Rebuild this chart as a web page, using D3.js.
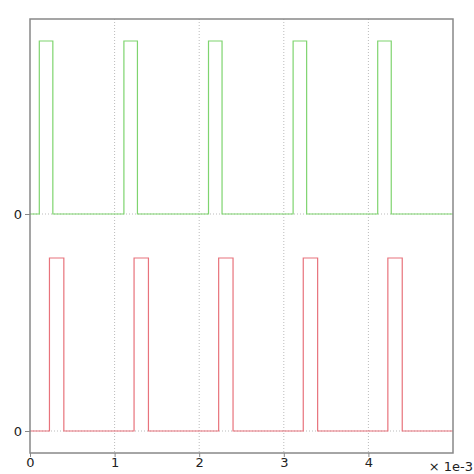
<!DOCTYPE html>
<html>
<head>
<meta charset="utf-8">
<script src="https://cdn.jsdelivr.net/npm/d3@7"></script>
<style>
  body { margin: 0; background: #fff; }
  text { font-family: "DejaVu Sans", sans-serif; font-size: 13px; fill: #222; }
</style>
</head>
<body>
<div id="chart"></div>
<script>
// pulse rise/fall times (seconds)
const greenRise = [0.11e-3, 1.11e-3, 2.11e-3, 3.11e-3, 4.11e-3];
const greenFall = [0.27e-3, 1.27e-3, 2.27e-3, 3.27e-3, 4.27e-3];
const redRise = [0.23e-3, 1.23e-3, 2.23e-3, 3.23e-3, 4.23e-3];
const redFall = [0.40e-3, 1.40e-3, 2.40e-3, 3.40e-3, 4.40e-3];
const xTicks = [0, 1e-3, 2e-3, 3e-3, 4e-3];
const xEnd = 5e-3;

const width = 474, height = 474;
const margin = { top: 19, right: 21, bottom: 21, left: 30 };

const svg = d3.select("#chart").append("svg")
  .attr("width", width).attr("height", height);

const x = d3.scaleLinear().domain([0, xEnd]).range([margin.left, width - margin.right]);
// two stacked digital traces, each with its own scale
const yGreen = d3.scaleLinear().domain([0, 1]).range([214, 41]);
const yRed = d3.scaleLinear().domain([0, 1]).range([431, 258]);

function steps(rise, fall) {
  const pts = [[0, 0]];
  rise.forEach((r, i) => {
    pts.push([r, 0], [r, 1], [fall[i], 1], [fall[i], 0]);
  });
  pts.push([xEnd, 0]);
  return pts;
}

// vertical grid
svg.append("g")
  .selectAll("line").data(xTicks.slice(1)).join("line")
  .attr("x1", d => x(d)).attr("x2", d => x(d))
  .attr("y1", margin.top).attr("y2", height - margin.bottom)
  .attr("stroke", "#bbb").attr("stroke-dasharray", "1,2");

// horizontal zero grid
[yGreen, yRed].forEach(y => {
  svg.append("line")
    .attr("x1", x(0)).attr("x2", x(xEnd))
    .attr("y1", y(0)).attr("y2", y(0))
    .attr("stroke", "#bbb").attr("stroke-dasharray", "1,2");
});

const line = (y) => d3.line().x(d => x(d[0])).y(d => y(d[1]));

svg.append("path").datum(steps(greenRise, greenFall))
  .attr("fill", "none").attr("stroke", "#7fd46f").attr("stroke-width", 1.2)
  .attr("d", line(yGreen));
svg.append("path").datum(steps(redRise, redFall))
  .attr("fill", "none").attr("stroke", "#e8737c").attr("stroke-width", 1.2)
  .attr("d", line(yRed));

// frame
svg.append("rect")
  .attr("x", margin.left).attr("y", margin.top)
  .attr("width", width - margin.left - margin.right)
  .attr("height", height - margin.top - margin.bottom)
  .attr("fill", "none").attr("stroke", "#888").attr("stroke-width", 1.5);

// x axis
const xAxis = svg.append("g")
  .attr("transform", `translate(0,${height - margin.bottom})`)
  .call(d3.axisBottom(x).tickValues(xTicks).tickSize(4).tickFormat(d => d3.format("d")(d * 1e3)));
xAxis.select(".domain").remove();
xAxis.selectAll(".tick line").attr("stroke", "#888");
xAxis.selectAll("text").attr("y", 5).attr("dy", "0.71em").style("font-size", "13px");

svg.append("text").attr("x", width - 1).attr("y", height - 3)
  .attr("text-anchor", "end").text("× 1e-3");

// y labels
[yGreen, yRed].forEach(y => {
  const g = svg.append("g").attr("transform", `translate(${margin.left},0)`)
    .call(d3.axisLeft(y).tickValues([0]).tickSize(5).tickFormat(d3.format("d")));
  g.select(".domain").remove();
  g.selectAll(".tick line").attr("stroke", "#888");
  g.selectAll("text").style("font-size", "13px");
});
</script>
</body>
</html>
